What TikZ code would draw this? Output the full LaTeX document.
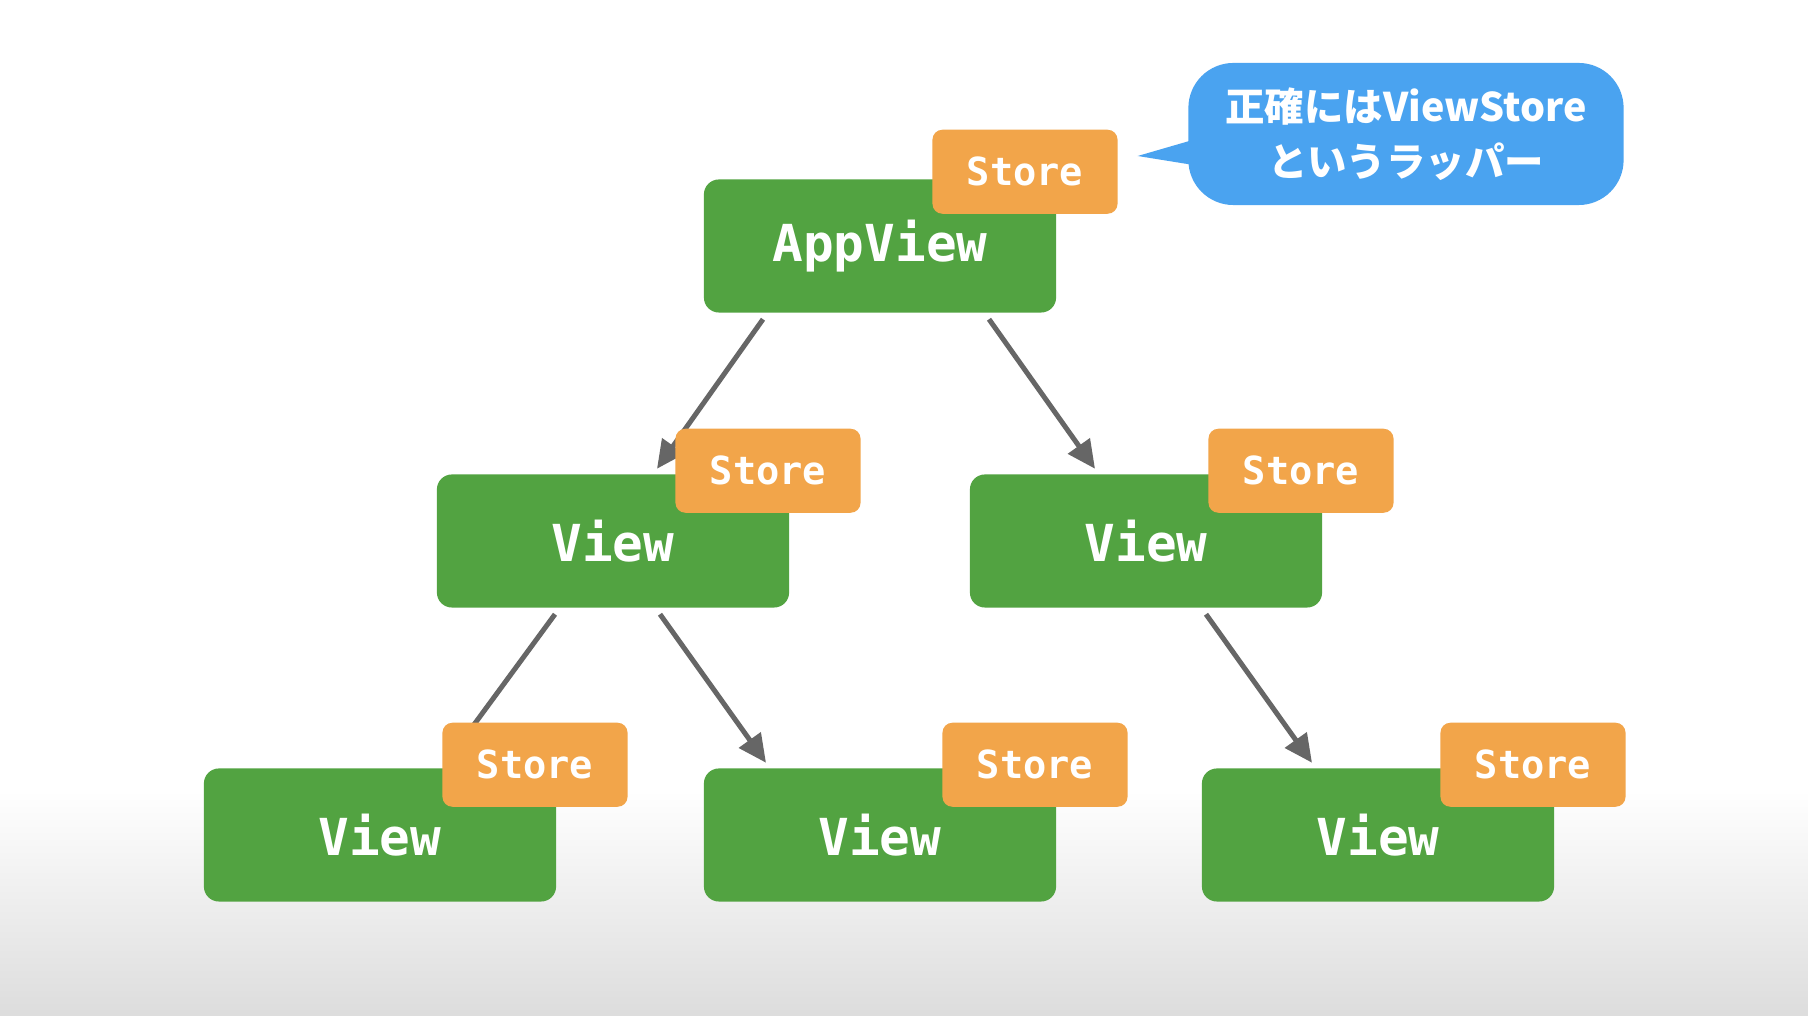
\documentclass[tikz,border=0pt]{standalone}
\usepackage{fontspec}
\newfontfamily\codefont{DejaVu Sans Mono}
\newfontfamily\jpfont{Noto Sans CJK JP}
\usetikzlibrary{arrows.meta, calc}
\definecolor{viewgreen}{HTML}{52A341}
\definecolor{storeorange}{HTML}{F2A54A}
\definecolor{bubbleblue}{HTML}{4AA3F0}
\definecolor{arrowgray}{HTML}{666666}

\begin{document}
\begin{tikzpicture}[x=0.01cm, y=-0.01cm, >={Triangle[length=0.28cm, width=0.26cm]},
    viewbox/.style={fill=viewgreen, rounded corners=0.15cm, minimum width=3.52cm, minimum height=1.33cm,
        inner sep=0pt, text=white, font=\codefont\bfseries\fontsize{14.5}{16}\selectfont},
    storebox/.style={fill=storeorange, rounded corners=0.1cm, minimum width=1.85cm, minimum height=0.84cm,
        inner sep=0pt, text=white, font=\codefont\bfseries\fontsize{11}{13}\selectfont},
    link/.style={->, draw=arrowgray, line width=0.05cm}]
    % 背景
    \useasboundingbox (0,0) rectangle (1808,1016);
    \fill[white] (0,0) rectangle (1808,1016);
    \shade[top color=white, bottom color=gray!27] (0,790) rectangle (1808,1016);
    % View
    \node[viewbox] (app) at (880,246) {AppView};
    \node[viewbox] (v1) at (613,541) {View};
    \node[viewbox] (v2) at (1146,541) {View};
    \node[viewbox] (v3) at (380,835) {View};
    \node[viewbox] (v4) at (880,835) {View};
    \node[viewbox] (v5) at (1378,835) {View};
    % 親 -> 子
    \draw[link] ($(app.south)+(-117,6)$) -- ($(v1.north)+(44,-5)$);
    \draw[link] ($(app.south)+(109,6)$) -- ($(v2.north)+(-51,-5)$);
    \draw[link] ($(v1.south)+(-58,6)$) -- ($(v3.north)+(69,-9)$);
    \draw[link] ($(v1.south)+(47,6)$) -- ($(v4.north)+(-114,-5)$);
    \draw[link] ($(v2.south)+(60,6)$) -- ($(v5.north)+(-66,-5)$);
    % Store
    \node[storebox] (appst) at ($(app.north)+(145,-7)$) {Store};
    \foreach \v in {v1, v2, v3, v4, v5}
        \node[storebox] (\v st) at ($(\v.north)+(155,-3)$) {Store};
    % 吹き出し
    \node[fill=bubbleblue, rounded corners=0.45cm, minimum width=4.35cm, minimum height=1.42cm,
        inner sep=0pt, text=white, align=center, font=\jpfont\bfseries\fontsize{11.2}{15.6}\selectfont]
        (bubble) at (1406,134) {正確にはViewStore\\というラッパー};
    \coordinate (tailtip) at ($(bubble.west)+(-50,22)$);
    \fill[bubbleblue] ($(bubble.west)+(12,4)$) -- (tailtip) -- ($(bubble.west)+(12,32)$) -- cycle;
\end{tikzpicture}
\end{document}
